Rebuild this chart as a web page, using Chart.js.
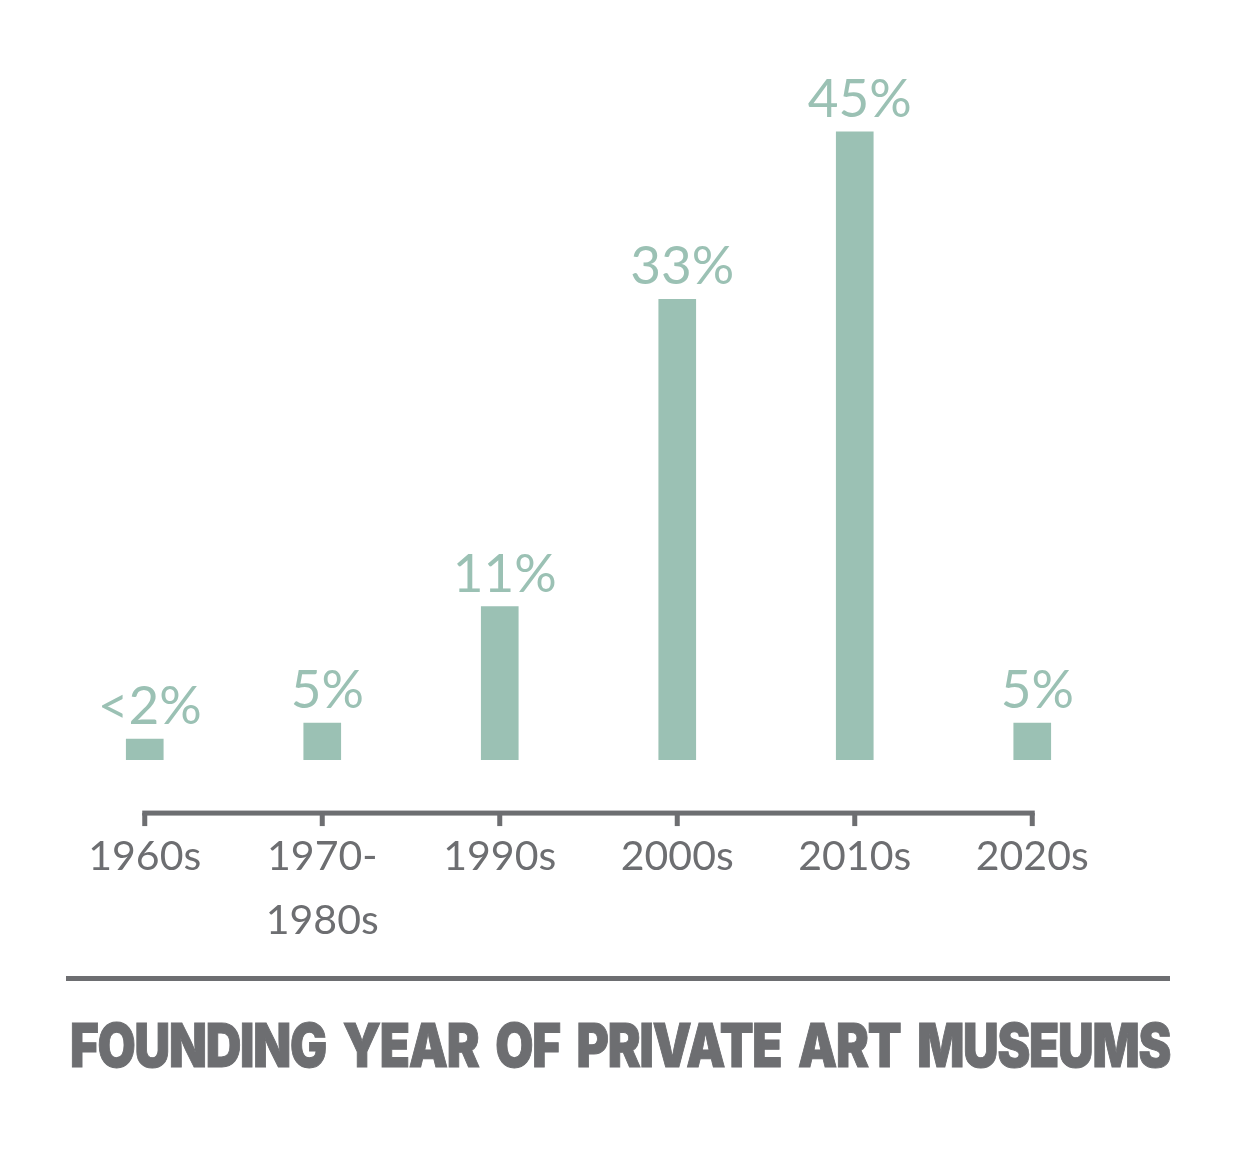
<!DOCTYPE html>
<html>
<head>
<meta charset="utf-8">
<script src="https://cdn.jsdelivr.net/npm/chart.js@4"></script>
<style>
    body { margin: 0; background: #fff; }
    #wrap { position: relative; width: 1240px; height: 1151px; }
    #rule { position: absolute; left: 66px; top: 976px; width: 1104px; height: 5px; background: #6d6e71; }
    #title {
        position: absolute; left: 70px; top: 1010px; white-space: nowrap;
        font-family: Inter, Lato, sans-serif;
        font-weight: 900; font-size: 60px; line-height: 70px; color: #6d6e71;
        letter-spacing: -1.5px; word-spacing: 10px;
        -webkit-text-stroke: 1px #6d6e71;
        transform-origin: 0 0;
    }
</style>
</head>
<body>
<div id="wrap">
    <canvas id="chart" width="1240" height="1151"></canvas>
    <div id="rule"></div>
    <div id="title">FOUNDING YEAR OF PRIVATE ART MUSEUMS</div>
</div>
<script>
// Dados
const decadas = ['1960s', ['1970-', '1980s'], '1990s', '2000s', '2010s', '2020s'];
const alturas = [1.5, 2.65, 11, 33, 45, 2.65];
const rotulos = ['<2%', '5%', '11%', '33%', '45%', '5%'];

const verde = '#9bc1b4';
const cinza = '#6d6e71';

// Rótulos de valor acima das barras
const valoresPlugin = {
    id: 'valores',
    afterDatasetsDraw(chart) {
        const ctx = chart.ctx;
        const meta = chart.getDatasetMeta(0);
        ctx.save();
        ctx.fillStyle = verde;
        ctx.font = '400 53px Lato, sans-serif';
        ctx.textAlign = 'center';
        ctx.textBaseline = 'alphabetic';
        meta.data.forEach((bar, i) => {
            ctx.fillText(rotulos[i], bar.x + 5, bar.y - 15);
        });
        ctx.restore();
    }
};

// Linha do eixo com marcas
const eixoPlugin = {
    id: 'eixo',
    afterDraw(chart) {
        const ctx = chart.ctx;
        const x = chart.scales.x;
        const y = chart.chartArea.bottom + 53;
        const primeiro = x.getPixelForValue(0);
        const ultimo = x.getPixelForValue(decadas.length - 1);
        ctx.save();
        ctx.fillStyle = cinza;
        ctx.fillRect(primeiro - 2.5, y - 2.5, ultimo - primeiro + 5, 5);
        for (let i = 0; i < decadas.length; i++) {
            const px = x.getPixelForValue(i);
            ctx.fillRect(px - 2.5, y, 5, 13);
        }
        ctx.restore();
    }
};

new Chart(document.getElementById('chart').getContext('2d'), {
    type: 'bar',
    data: {
        labels: decadas,
        datasets: [{
            data: alturas,
            backgroundColor: verde,
            barThickness: 37
        }]
    },
    options: {
        responsive: false,
        animation: false,
        layout: { padding: { left: 56, right: 119, top: 62, bottom: 133 } },
        plugins: { legend: { display: false }, tooltip: { enabled: false } },
        scales: {
            x: {
                grid: { display: false, drawTicks: false },
                border: { display: false },
                ticks: {
                    color: cinza,
                    padding: 65,
                    maxRotation: 0,
                    autoSkip: false,
                    font: { family: 'Lato, sans-serif', size: 41, lineHeight: 1.56 }
                }
            },
            y: { display: false, min: 0, max: 50 }
        }
    },
    plugins: [valoresPlugin, eixoPlugin]
});

// Ajustar o título à largura da régua
const titulo = document.getElementById('title');
const largura = titulo.getBoundingClientRect().width;
titulo.style.transform = 'scaleX(' + (1100 / largura) + ')';
</script>
</body>
</html>
